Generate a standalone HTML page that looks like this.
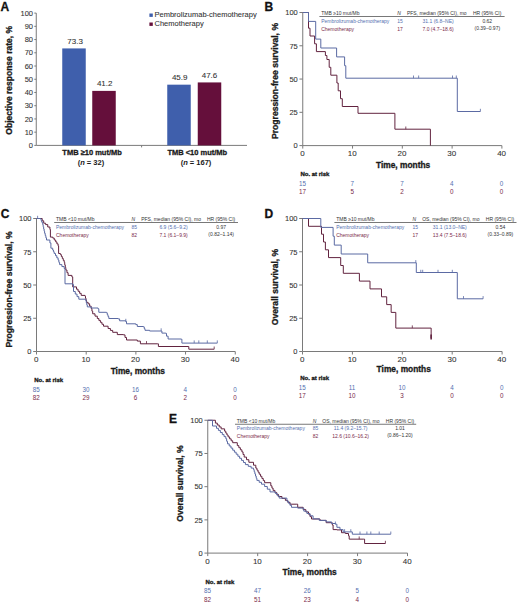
<!DOCTYPE html>
<html><head><meta charset="utf-8"><style>
html,body{margin:0;padding:0;background:#fff;width:520px;height:604px;overflow:hidden}
svg{display:block}
text{font-family:"Liberation Sans", sans-serif}
</style></head><body>
<svg width="520" height="604" viewBox="0 0 520 604" shape-rendering="auto">
<rect x="0" y="0" width="520" height="604" fill="#fff"/>
<text x="0.40" y="11.00" font-size="12.0" text-anchor="start" font-weight="bold" fill="#111" stroke="#111" stroke-width="0.3" >A</text>
<line x1="36.25" y1="13.10" x2="36.25" y2="145.40" stroke="#7a7a7a" stroke-width="1"/>
<line x1="36.25" y1="145.40" x2="247.00" y2="145.40" stroke="#7a7a7a" stroke-width="1"/>
<line x1="34.30" y1="145.40" x2="36.25" y2="145.40" stroke="#7a7a7a" stroke-width="1"/>
<text x="33.00" y="148.10" font-size="7.5" text-anchor="end" font-weight="normal" fill="#333" stroke="#333" stroke-width="0.08" >0</text>
<line x1="34.30" y1="132.17" x2="36.25" y2="132.17" stroke="#7a7a7a" stroke-width="1"/>
<text x="33.00" y="134.87" font-size="7.5" text-anchor="end" font-weight="normal" fill="#333" stroke="#333" stroke-width="0.08" >10</text>
<line x1="34.30" y1="118.94" x2="36.25" y2="118.94" stroke="#7a7a7a" stroke-width="1"/>
<text x="33.00" y="121.64" font-size="7.5" text-anchor="end" font-weight="normal" fill="#333" stroke="#333" stroke-width="0.08" >20</text>
<line x1="34.30" y1="105.71" x2="36.25" y2="105.71" stroke="#7a7a7a" stroke-width="1"/>
<text x="33.00" y="108.41" font-size="7.5" text-anchor="end" font-weight="normal" fill="#333" stroke="#333" stroke-width="0.08" >30</text>
<line x1="34.30" y1="92.48" x2="36.25" y2="92.48" stroke="#7a7a7a" stroke-width="1"/>
<text x="33.00" y="95.18" font-size="7.5" text-anchor="end" font-weight="normal" fill="#333" stroke="#333" stroke-width="0.08" >40</text>
<line x1="34.30" y1="79.25" x2="36.25" y2="79.25" stroke="#7a7a7a" stroke-width="1"/>
<text x="33.00" y="81.95" font-size="7.5" text-anchor="end" font-weight="normal" fill="#333" stroke="#333" stroke-width="0.08" >50</text>
<line x1="34.30" y1="66.02" x2="36.25" y2="66.02" stroke="#7a7a7a" stroke-width="1"/>
<text x="33.00" y="68.72" font-size="7.5" text-anchor="end" font-weight="normal" fill="#333" stroke="#333" stroke-width="0.08" >60</text>
<line x1="34.30" y1="52.79" x2="36.25" y2="52.79" stroke="#7a7a7a" stroke-width="1"/>
<text x="33.00" y="55.49" font-size="7.5" text-anchor="end" font-weight="normal" fill="#333" stroke="#333" stroke-width="0.08" >70</text>
<line x1="34.30" y1="39.56" x2="36.25" y2="39.56" stroke="#7a7a7a" stroke-width="1"/>
<text x="33.00" y="42.26" font-size="7.5" text-anchor="end" font-weight="normal" fill="#333" stroke="#333" stroke-width="0.08" >80</text>
<line x1="34.30" y1="26.33" x2="36.25" y2="26.33" stroke="#7a7a7a" stroke-width="1"/>
<text x="33.00" y="29.03" font-size="7.5" text-anchor="end" font-weight="normal" fill="#333" stroke="#333" stroke-width="0.08" >90</text>
<line x1="34.30" y1="13.10" x2="36.25" y2="13.10" stroke="#7a7a7a" stroke-width="1"/>
<text x="33.00" y="15.80" font-size="7.5" text-anchor="end" font-weight="normal" fill="#333" stroke="#333" stroke-width="0.08" >100</text>
<line x1="141.60" y1="145.40" x2="141.60" y2="147.40" stroke="#7a7a7a" stroke-width="1"/>
<text x="12.30" y="80.30" font-size="8.5" text-anchor="middle" font-weight="bold" fill="#1a1a1a" stroke="#1a1a1a" stroke-width="0.3" transform="rotate(-90 12.3 80.3)">Objective response rate, %</text>
<rect x="62.25" y="48.42" width="23.50" height="96.98" fill="#3f5fac"/>
<rect x="92.25" y="90.89" width="23.50" height="54.51" fill="#650f3b"/>
<rect x="167.25" y="84.67" width="23.50" height="60.73" fill="#3f5fac"/>
<rect x="197.75" y="82.43" width="23.50" height="62.97" fill="#650f3b"/>
<text x="75.10" y="44.00" font-size="8.0" text-anchor="middle" font-weight="normal" fill="#333" stroke="#333" stroke-width="0.08" >73.3</text>
<text x="104.70" y="86.30" font-size="8.0" text-anchor="middle" font-weight="normal" fill="#333" stroke="#333" stroke-width="0.08" >41.2</text>
<text x="179.70" y="80.00" font-size="8.0" text-anchor="middle" font-weight="normal" fill="#333" stroke="#333" stroke-width="0.08" >45.9</text>
<text x="209.50" y="78.15" font-size="8.0" text-anchor="middle" font-weight="normal" fill="#333" stroke="#333" stroke-width="0.08" >47.6</text>
<text x="92.10" y="155.10" font-size="7.5" text-anchor="middle" font-weight="bold" fill="#1a1a1a" stroke="#1a1a1a" stroke-width="0.3" >TMB ≥10 mut/Mb</text>
<text x="90.9" y="165.2" font-size="7.5" text-anchor="middle" font-weight="bold" fill="#1a1a1a">(<tspan font-style="italic">n</tspan> = 32)</text>
<text x="197.30" y="155.30" font-size="7.5" text-anchor="middle" font-weight="bold" fill="#1a1a1a" stroke="#1a1a1a" stroke-width="0.3" >TMB &lt;10 mut/Mb</text>
<text x="196.0" y="165.2" font-size="7.5" text-anchor="middle" font-weight="bold" fill="#1a1a1a">(<tspan font-style="italic">n</tspan> = 167)</text>
<rect x="149.40" y="13.50" width="3.40" height="3.40" fill="#3f5fac"/>
<rect x="149.40" y="22.50" width="3.40" height="3.40" fill="#650f3b"/>
<text x="154.50" y="17.10" font-size="7.5" text-anchor="start" font-weight="normal" fill="#333" stroke="#333" stroke-width="0.08" >Pembrolizumab-chemotherapy</text>
<text x="154.50" y="26.10" font-size="7.5" text-anchor="start" font-weight="normal" fill="#333" stroke="#333" stroke-width="0.08" >Chemotherapy</text>
<text x="264.60" y="10.60" font-size="12.0" text-anchor="start" font-weight="bold" fill="#111" stroke="#111" stroke-width="0.3" >B</text>
<line x1="302.75" y1="12.50" x2="302.75" y2="145.60" stroke="#7a7a7a" stroke-width="1"/>
<line x1="302.75" y1="145.60" x2="501.90" y2="145.60" stroke="#7a7a7a" stroke-width="1"/>
<line x1="299.45" y1="145.60" x2="302.75" y2="145.60" stroke="#7a7a7a" stroke-width="1"/>
<text x="297.75" y="148.35" font-size="7.5" text-anchor="end" font-weight="normal" fill="#333" stroke="#333" stroke-width="0.08" >0</text>
<line x1="299.45" y1="112.32" x2="302.75" y2="112.32" stroke="#7a7a7a" stroke-width="1"/>
<text x="297.75" y="115.07" font-size="7.5" text-anchor="end" font-weight="normal" fill="#333" stroke="#333" stroke-width="0.08" >25</text>
<line x1="299.45" y1="79.05" x2="302.75" y2="79.05" stroke="#7a7a7a" stroke-width="1"/>
<text x="297.75" y="81.80" font-size="7.5" text-anchor="end" font-weight="normal" fill="#333" stroke="#333" stroke-width="0.08" >50</text>
<line x1="299.45" y1="45.77" x2="302.75" y2="45.77" stroke="#7a7a7a" stroke-width="1"/>
<text x="297.75" y="48.52" font-size="7.5" text-anchor="end" font-weight="normal" fill="#333" stroke="#333" stroke-width="0.08" >75</text>
<line x1="299.45" y1="12.50" x2="302.75" y2="12.50" stroke="#7a7a7a" stroke-width="1"/>
<text x="297.75" y="15.25" font-size="7.5" text-anchor="end" font-weight="normal" fill="#333" stroke="#333" stroke-width="0.08" >100</text>
<line x1="302.75" y1="145.60" x2="302.75" y2="148.60" stroke="#7a7a7a" stroke-width="1"/>
<text x="302.45" y="156.10" font-size="8.0" text-anchor="middle" font-weight="normal" fill="#333" stroke="#333" stroke-width="0.08" >0</text>
<line x1="352.54" y1="145.60" x2="352.54" y2="148.60" stroke="#7a7a7a" stroke-width="1"/>
<text x="352.24" y="156.10" font-size="8.0" text-anchor="middle" font-weight="normal" fill="#333" stroke="#333" stroke-width="0.08" >10</text>
<line x1="402.32" y1="145.60" x2="402.32" y2="148.60" stroke="#7a7a7a" stroke-width="1"/>
<text x="402.02" y="156.10" font-size="8.0" text-anchor="middle" font-weight="normal" fill="#333" stroke="#333" stroke-width="0.08" >20</text>
<line x1="452.11" y1="145.60" x2="452.11" y2="148.60" stroke="#7a7a7a" stroke-width="1"/>
<text x="451.81" y="156.10" font-size="8.0" text-anchor="middle" font-weight="normal" fill="#333" stroke="#333" stroke-width="0.08" >30</text>
<line x1="501.90" y1="145.60" x2="501.90" y2="148.60" stroke="#7a7a7a" stroke-width="1"/>
<text x="501.60" y="156.10" font-size="8.0" text-anchor="middle" font-weight="normal" fill="#333" stroke="#333" stroke-width="0.08" >40</text>
<text x="278.25" y="81.00" font-size="8.6" text-anchor="middle" font-weight="bold" fill="#1a1a1a" stroke="#1a1a1a" stroke-width="0.3" transform="rotate(-90 278.25 81.00)">Progression-free survival, %</text>
<text x="403.12" y="168.15" font-size="8.4" text-anchor="middle" font-weight="bold" fill="#1a1a1a" stroke="#1a1a1a" stroke-width="0.3" >Time, months</text>
<text x="300.45" y="176.20" font-size="6.0" text-anchor="start" font-weight="bold" fill="#1a1a1a" stroke="#1a1a1a" stroke-width="0.3" >No. at risk</text>
<text x="302.45" y="185.80" font-size="6.3" text-anchor="middle" font-weight="normal" fill="#5470b0" >15</text>
<text x="302.45" y="194.00" font-size="6.3" text-anchor="middle" font-weight="normal" fill="#7a2a4a" >17</text>
<text x="352.24" y="185.80" font-size="6.3" text-anchor="middle" font-weight="normal" fill="#5470b0" >7</text>
<text x="352.24" y="194.00" font-size="6.3" text-anchor="middle" font-weight="normal" fill="#7a2a4a" >5</text>
<text x="402.02" y="185.80" font-size="6.3" text-anchor="middle" font-weight="normal" fill="#5470b0" >7</text>
<text x="402.02" y="194.00" font-size="6.3" text-anchor="middle" font-weight="normal" fill="#7a2a4a" >2</text>
<text x="451.81" y="185.80" font-size="6.3" text-anchor="middle" font-weight="normal" fill="#5470b0" >4</text>
<text x="451.81" y="194.00" font-size="6.3" text-anchor="middle" font-weight="normal" fill="#7a2a4a" >0</text>
<text x="501.60" y="185.80" font-size="6.3" text-anchor="middle" font-weight="normal" fill="#5470b0" >0</text>
<text x="501.60" y="194.00" font-size="6.3" text-anchor="middle" font-weight="normal" fill="#7a2a4a" >0</text>
<text x="321.20" y="14.80" font-size="5.0" text-anchor="start" font-weight="normal" fill="#333" >TMB ≥10 mut/Mb</text>
<text x="397.30" y="14.80" font-size="5" font-style="italic" fill="#333">N</text>
<text x="406.90" y="14.80" font-size="5.0" text-anchor="start" font-weight="normal" fill="#333" >PFS, median (95% CI), mo</text>
<text x="473.00" y="14.80" font-size="5.0" text-anchor="start" font-weight="normal" fill="#333" >HR (95% CI)</text>
<line x1="319.40" y1="16.50" x2="504.60" y2="16.50" stroke="#555" stroke-width="0.8"/>
<text x="321.20" y="22.70" font-size="5.0" text-anchor="start" font-weight="normal" fill="#5470b0" >Pembrolizumab-chemotherapy</text>
<text x="321.20" y="30.60" font-size="5.0" text-anchor="start" font-weight="normal" fill="#7a2a4a" >Chemotherapy</text>
<text x="397.30" y="22.70" font-size="5.0" text-anchor="start" font-weight="normal" fill="#5470b0" >15</text>
<text x="397.30" y="30.60" font-size="5.0" text-anchor="start" font-weight="normal" fill="#7a2a4a" >17</text>
<text x="438.10" y="22.70" font-size="5.0" text-anchor="middle" font-weight="normal" fill="#5470b0" >31.1 (6.8–NE)</text>
<text x="438.10" y="30.60" font-size="5.0" text-anchor="middle" font-weight="normal" fill="#7a2a4a" >7.0 (4.7–18.6)</text>
<text x="487.30" y="22.70" font-size="5.0" text-anchor="middle" font-weight="normal" fill="#333" >0.62</text>
<text x="487.30" y="29.50" font-size="5.0" text-anchor="middle" font-weight="normal" fill="#333" >(0.39–0.97)</text>
<path d="M302.75,12.5 H308.5 V28.2 H310 V36 H314.6 V43.8 H316.4 V51.6 H325.4 V55.5 H326.9 V59.5 H329.2 V67.3 H330.8 V75.2 H336.9 V83 H338.2 V90.8 H340.5 V98.7 H342.3 V106.5 H358 V113.3 H394.9 V129.2 H430.4 V145.6" fill="none" stroke="#62233f" stroke-width="1" stroke-linejoin="miter" stroke-linecap="butt"/>
<line x1="405.80" y1="126.50" x2="405.80" y2="129.20" stroke="#62233f" stroke-width="0.8"/>
<path d="M302.75,12.5 H308.5 V21.4 H315.7 V39.1 H320.8 V48 H336.6 V56.9 H344.6 V65.7 H345.8 V78.2 H457.3 V111.5 H480.4" fill="none" stroke="#5b6aa3" stroke-width="1" stroke-linejoin="miter" stroke-linecap="butt"/>
<line x1="413.50" y1="75.50" x2="413.50" y2="78.20" stroke="#5b6aa3" stroke-width="0.8"/>
<line x1="418.65" y1="75.50" x2="418.65" y2="78.20" stroke="#5b6aa3" stroke-width="0.8"/>
<line x1="452.50" y1="75.50" x2="452.50" y2="78.20" stroke="#5b6aa3" stroke-width="0.8"/>
<line x1="456.30" y1="75.50" x2="456.30" y2="78.20" stroke="#5b6aa3" stroke-width="0.8"/>
<line x1="480.40" y1="108.80" x2="480.40" y2="111.50" stroke="#5b6aa3" stroke-width="0.8"/>
<text x="0.80" y="217.50" font-size="12.0" text-anchor="start" font-weight="bold" fill="#111" stroke="#111" stroke-width="0.3" >C</text>
<line x1="36.50" y1="218.50" x2="36.50" y2="351.50" stroke="#7a7a7a" stroke-width="1"/>
<line x1="36.50" y1="351.50" x2="235.25" y2="351.50" stroke="#7a7a7a" stroke-width="1"/>
<line x1="33.20" y1="351.50" x2="36.50" y2="351.50" stroke="#7a7a7a" stroke-width="1"/>
<text x="31.50" y="354.25" font-size="7.5" text-anchor="end" font-weight="normal" fill="#333" stroke="#333" stroke-width="0.08" >0</text>
<line x1="33.20" y1="318.25" x2="36.50" y2="318.25" stroke="#7a7a7a" stroke-width="1"/>
<text x="31.50" y="321.00" font-size="7.5" text-anchor="end" font-weight="normal" fill="#333" stroke="#333" stroke-width="0.08" >25</text>
<line x1="33.20" y1="285.00" x2="36.50" y2="285.00" stroke="#7a7a7a" stroke-width="1"/>
<text x="31.50" y="287.75" font-size="7.5" text-anchor="end" font-weight="normal" fill="#333" stroke="#333" stroke-width="0.08" >50</text>
<line x1="33.20" y1="251.75" x2="36.50" y2="251.75" stroke="#7a7a7a" stroke-width="1"/>
<text x="31.50" y="254.50" font-size="7.5" text-anchor="end" font-weight="normal" fill="#333" stroke="#333" stroke-width="0.08" >75</text>
<line x1="33.20" y1="218.50" x2="36.50" y2="218.50" stroke="#7a7a7a" stroke-width="1"/>
<text x="31.50" y="221.25" font-size="7.5" text-anchor="end" font-weight="normal" fill="#333" stroke="#333" stroke-width="0.08" >100</text>
<line x1="36.50" y1="351.50" x2="36.50" y2="354.50" stroke="#7a7a7a" stroke-width="1"/>
<text x="36.20" y="362.00" font-size="8.0" text-anchor="middle" font-weight="normal" fill="#333" stroke="#333" stroke-width="0.08" >0</text>
<line x1="86.19" y1="351.50" x2="86.19" y2="354.50" stroke="#7a7a7a" stroke-width="1"/>
<text x="85.89" y="362.00" font-size="8.0" text-anchor="middle" font-weight="normal" fill="#333" stroke="#333" stroke-width="0.08" >10</text>
<line x1="135.88" y1="351.50" x2="135.88" y2="354.50" stroke="#7a7a7a" stroke-width="1"/>
<text x="135.57" y="362.00" font-size="8.0" text-anchor="middle" font-weight="normal" fill="#333" stroke="#333" stroke-width="0.08" >20</text>
<line x1="185.56" y1="351.50" x2="185.56" y2="354.50" stroke="#7a7a7a" stroke-width="1"/>
<text x="185.26" y="362.00" font-size="8.0" text-anchor="middle" font-weight="normal" fill="#333" stroke="#333" stroke-width="0.08" >30</text>
<line x1="235.25" y1="351.50" x2="235.25" y2="354.50" stroke="#7a7a7a" stroke-width="1"/>
<text x="234.95" y="362.00" font-size="8.0" text-anchor="middle" font-weight="normal" fill="#333" stroke="#333" stroke-width="0.08" >40</text>
<text x="12.30" y="289.50" font-size="8.6" text-anchor="middle" font-weight="bold" fill="#1a1a1a" stroke="#1a1a1a" stroke-width="0.3" transform="rotate(-90 12.30 289.50)">Progression-free survival, %</text>
<text x="137.78" y="373.85" font-size="8.4" text-anchor="middle" font-weight="bold" fill="#1a1a1a" stroke="#1a1a1a" stroke-width="0.3" >Time, months</text>
<text x="34.20" y="382.10" font-size="6.0" text-anchor="start" font-weight="bold" fill="#1a1a1a" stroke="#1a1a1a" stroke-width="0.3" >No. at risk</text>
<text x="36.20" y="391.70" font-size="6.3" text-anchor="middle" font-weight="normal" fill="#5470b0" >85</text>
<text x="36.20" y="399.90" font-size="6.3" text-anchor="middle" font-weight="normal" fill="#7a2a4a" >82</text>
<text x="85.89" y="391.70" font-size="6.3" text-anchor="middle" font-weight="normal" fill="#5470b0" >30</text>
<text x="85.89" y="399.90" font-size="6.3" text-anchor="middle" font-weight="normal" fill="#7a2a4a" >29</text>
<text x="135.57" y="391.70" font-size="6.3" text-anchor="middle" font-weight="normal" fill="#5470b0" >16</text>
<text x="135.57" y="399.90" font-size="6.3" text-anchor="middle" font-weight="normal" fill="#7a2a4a" >6</text>
<text x="185.26" y="391.70" font-size="6.3" text-anchor="middle" font-weight="normal" fill="#5470b0" >4</text>
<text x="185.26" y="399.90" font-size="6.3" text-anchor="middle" font-weight="normal" fill="#7a2a4a" >2</text>
<text x="234.95" y="391.70" font-size="6.3" text-anchor="middle" font-weight="normal" fill="#5470b0" >0</text>
<text x="234.95" y="399.90" font-size="6.3" text-anchor="middle" font-weight="normal" fill="#7a2a4a" >0</text>
<text x="56.00" y="220.80" font-size="5.0" text-anchor="start" font-weight="normal" fill="#333" >TMB &lt;10 mut/Mb</text>
<text x="131.60" y="220.80" font-size="5" font-style="italic" fill="#333">N</text>
<text x="141.20" y="220.80" font-size="5.0" text-anchor="start" font-weight="normal" fill="#333" >PFS, median (95% CI), mo</text>
<text x="206.90" y="220.80" font-size="5.0" text-anchor="start" font-weight="normal" fill="#333" >HR (95% CI)</text>
<line x1="54.20" y1="222.50" x2="238.00" y2="222.50" stroke="#555" stroke-width="0.8"/>
<text x="56.00" y="228.70" font-size="5.0" text-anchor="start" font-weight="normal" fill="#5470b0" >Pembrolizumab-chemotherapy</text>
<text x="56.00" y="236.60" font-size="5.0" text-anchor="start" font-weight="normal" fill="#7a2a4a" >Chemotherapy</text>
<text x="131.60" y="228.70" font-size="5.0" text-anchor="start" font-weight="normal" fill="#5470b0" >85</text>
<text x="131.60" y="236.60" font-size="5.0" text-anchor="start" font-weight="normal" fill="#7a2a4a" >82</text>
<text x="173.60" y="228.70" font-size="5.0" text-anchor="middle" font-weight="normal" fill="#5470b0" >6.9 (5.6–9.2)</text>
<text x="173.60" y="236.60" font-size="5.0" text-anchor="middle" font-weight="normal" fill="#7a2a4a" >7.1 (6.1–9.9)</text>
<text x="221.10" y="228.70" font-size="5.0" text-anchor="middle" font-weight="normal" fill="#333" >0.97</text>
<text x="221.10" y="235.50" font-size="5.0" text-anchor="middle" font-weight="normal" fill="#333" >(0.82–1.14)</text>
<path d="M36.50,218.50 H38.80 V218.50 H42.20 V220.80 H43.70 V223.20 H45.60 V224.60 H47.75 V227.00 H49.90 V229.40 H50.40 V237.10 H52.80 V238.10 H54.25 V240.00 H55.70 V241.90 H56.90 V243.85 H58.10 V245.80 H58.60 V253.50 H60.40 V254.60 H61.35 V256.52 H62.30 V258.45 H63.25 V260.38 H64.20 V262.30 H64.73 V264.87 H65.27 V267.43 H65.80 V270.00 H66.95 V272.70 H68.10 V275.40 H71.90 V276.90 H72.70 V286.90 H76.50 V289.20 H78.07 V291.27 H79.63 V293.33 H81.20 V295.40 H85.00 V296.20 H85.50 V298.23 H86.00 V300.27 H86.50 V302.30 H88.10 V303.80 H89.62 V306.15 H91.15 V308.50 H91.93 V311.15 H92.70 V313.80 H95.00 V316.15 H97.30 V318.50 H98.85 V320.40 H100.40 V322.30 H101.95 V324.25 H103.50 V326.20 H108.10 V328.50 H110.40 V330.40 H112.70 V332.30 H117.30 V334.60 H123.50 V334.90 H125.00 V337.45 H126.50 V340.00 H137.30 V341.10 H140.40 V343.80 H157.30 V343.80 H158.40 V346.50 H188.10 V346.50 H188.80 V349.20 H214.20 V349.20" fill="none" stroke="#62233f" stroke-width="1" stroke-linejoin="miter" stroke-linecap="butt"/>
<path d="M36.50,218.50 H40.30 V218.50 H41.00 V220.35 H41.70 V222.20 H42.70 V224.60 H43.18 V226.78 H43.65 V228.95 H44.12 V231.12 H44.60 V233.30 H45.23 V235.53 H45.87 V237.77 H46.50 V240.00 H49.90 V242.90 H50.90 V248.20 H52.70 V250.00 H53.45 V251.75 H54.20 V253.50 H55.50 V255.67 H56.80 V257.83 H58.10 V260.00 H58.85 V262.30 H59.60 V264.60 H61.90 V266.55 H64.20 V268.50 H65.00 V283.80 H72.70 V284.60 H73.50 V291.50 H75.27 V294.07 H77.03 V296.63 H78.80 V299.20 H85.80 V300.80 H86.30 V302.83 H86.80 V304.87 H87.30 V306.90 H91.20 V308.00 H98.10 V308.80 H98.80 V312.30 H106.50 V312.80 H107.27 V314.70 H108.03 V316.60 H108.80 V318.50 H118.10 V318.90 H119.60 V320.80 H125.80 V321.50 H126.50 V323.80 H135.80 V324.60 H137.30 V326.50 H143.50 V326.90 H144.25 V328.60 H145.00 V330.30 H149.60 V331.00 H161.15 V331.00 H161.90 V333.10 H165.80 V333.40 H166.50 V336.15 H168.10 V339.00 H181.15 V339.20 H181.90 V343.10 H217.30 V343.10" fill="none" stroke="#5b6aa3" stroke-width="1" stroke-linejoin="miter" stroke-linecap="butt"/>
<line x1="161.15" y1="328.30" x2="161.15" y2="331.00" stroke="#5b6aa3" stroke-width="0.8"/>
<line x1="194.20" y1="340.40" x2="194.20" y2="343.10" stroke="#5b6aa3" stroke-width="0.8"/>
<line x1="198.80" y1="340.40" x2="198.80" y2="343.10" stroke="#5b6aa3" stroke-width="0.8"/>
<line x1="207.30" y1="340.40" x2="207.30" y2="343.10" stroke="#5b6aa3" stroke-width="0.8"/>
<line x1="217.30" y1="340.40" x2="217.30" y2="343.10" stroke="#5b6aa3" stroke-width="0.8"/>
<line x1="125.80" y1="318.80" x2="125.80" y2="321.50" stroke="#5b6aa3" stroke-width="0.8"/>
<line x1="146.50" y1="341.10" x2="146.50" y2="343.80" stroke="#62233f" stroke-width="0.8"/>
<line x1="214.20" y1="346.50" x2="214.20" y2="349.20" stroke="#62233f" stroke-width="0.8"/>
<line x1="37.60" y1="215.80" x2="37.60" y2="218.50" stroke="#5b6aa3" stroke-width="0.8"/>
<text x="264.40" y="217.70" font-size="12.0" text-anchor="start" font-weight="bold" fill="#111" stroke="#111" stroke-width="0.3" >D</text>
<line x1="302.50" y1="218.50" x2="302.50" y2="351.50" stroke="#7a7a7a" stroke-width="1"/>
<line x1="302.50" y1="351.50" x2="502.10" y2="351.50" stroke="#7a7a7a" stroke-width="1"/>
<line x1="299.20" y1="351.50" x2="302.50" y2="351.50" stroke="#7a7a7a" stroke-width="1"/>
<text x="297.50" y="354.25" font-size="7.5" text-anchor="end" font-weight="normal" fill="#333" stroke="#333" stroke-width="0.08" >0</text>
<line x1="299.20" y1="318.25" x2="302.50" y2="318.25" stroke="#7a7a7a" stroke-width="1"/>
<text x="297.50" y="321.00" font-size="7.5" text-anchor="end" font-weight="normal" fill="#333" stroke="#333" stroke-width="0.08" >25</text>
<line x1="299.20" y1="285.00" x2="302.50" y2="285.00" stroke="#7a7a7a" stroke-width="1"/>
<text x="297.50" y="287.75" font-size="7.5" text-anchor="end" font-weight="normal" fill="#333" stroke="#333" stroke-width="0.08" >50</text>
<line x1="299.20" y1="251.75" x2="302.50" y2="251.75" stroke="#7a7a7a" stroke-width="1"/>
<text x="297.50" y="254.50" font-size="7.5" text-anchor="end" font-weight="normal" fill="#333" stroke="#333" stroke-width="0.08" >75</text>
<line x1="299.20" y1="218.50" x2="302.50" y2="218.50" stroke="#7a7a7a" stroke-width="1"/>
<text x="297.50" y="221.25" font-size="7.5" text-anchor="end" font-weight="normal" fill="#333" stroke="#333" stroke-width="0.08" >100</text>
<line x1="302.50" y1="351.50" x2="302.50" y2="354.50" stroke="#7a7a7a" stroke-width="1"/>
<text x="302.20" y="362.00" font-size="8.0" text-anchor="middle" font-weight="normal" fill="#333" stroke="#333" stroke-width="0.08" >0</text>
<line x1="352.40" y1="351.50" x2="352.40" y2="354.50" stroke="#7a7a7a" stroke-width="1"/>
<text x="352.10" y="362.00" font-size="8.0" text-anchor="middle" font-weight="normal" fill="#333" stroke="#333" stroke-width="0.08" >10</text>
<line x1="402.30" y1="351.50" x2="402.30" y2="354.50" stroke="#7a7a7a" stroke-width="1"/>
<text x="402.00" y="362.00" font-size="8.0" text-anchor="middle" font-weight="normal" fill="#333" stroke="#333" stroke-width="0.08" >20</text>
<line x1="452.20" y1="351.50" x2="452.20" y2="354.50" stroke="#7a7a7a" stroke-width="1"/>
<text x="451.90" y="362.00" font-size="8.0" text-anchor="middle" font-weight="normal" fill="#333" stroke="#333" stroke-width="0.08" >30</text>
<line x1="502.10" y1="351.50" x2="502.10" y2="354.50" stroke="#7a7a7a" stroke-width="1"/>
<text x="501.80" y="362.00" font-size="8.0" text-anchor="middle" font-weight="normal" fill="#333" stroke="#333" stroke-width="0.08" >40</text>
<text x="278.25" y="287.00" font-size="8.6" text-anchor="middle" font-weight="bold" fill="#1a1a1a" stroke="#1a1a1a" stroke-width="0.3" transform="rotate(-90 278.25 287.00)">Overall survival, %</text>
<text x="403.75" y="372.00" font-size="8.4" text-anchor="middle" font-weight="bold" fill="#1a1a1a" stroke="#1a1a1a" stroke-width="0.3" >Time, months</text>
<text x="300.20" y="379.90" font-size="6.0" text-anchor="start" font-weight="bold" fill="#1a1a1a" stroke="#1a1a1a" stroke-width="0.3" >No. at risk</text>
<text x="302.20" y="389.50" font-size="6.3" text-anchor="middle" font-weight="normal" fill="#5470b0" >15</text>
<text x="302.20" y="397.70" font-size="6.3" text-anchor="middle" font-weight="normal" fill="#7a2a4a" >17</text>
<text x="352.10" y="389.50" font-size="6.3" text-anchor="middle" font-weight="normal" fill="#5470b0" >11</text>
<text x="352.10" y="397.70" font-size="6.3" text-anchor="middle" font-weight="normal" fill="#7a2a4a" >10</text>
<text x="402.00" y="389.50" font-size="6.3" text-anchor="middle" font-weight="normal" fill="#5470b0" >10</text>
<text x="402.00" y="397.70" font-size="6.3" text-anchor="middle" font-weight="normal" fill="#7a2a4a" >3</text>
<text x="451.90" y="389.50" font-size="6.3" text-anchor="middle" font-weight="normal" fill="#5470b0" >4</text>
<text x="451.90" y="397.70" font-size="6.3" text-anchor="middle" font-weight="normal" fill="#7a2a4a" >0</text>
<text x="501.80" y="389.50" font-size="6.3" text-anchor="middle" font-weight="normal" fill="#5470b0" >0</text>
<text x="501.80" y="397.70" font-size="6.3" text-anchor="middle" font-weight="normal" fill="#7a2a4a" >0</text>
<text x="336.20" y="220.80" font-size="5.0" text-anchor="start" font-weight="normal" fill="#333" >TMB ≥10 mut/Mb</text>
<text x="412.60" y="220.80" font-size="5" font-style="italic" fill="#333">N</text>
<text x="422.20" y="220.80" font-size="5.0" text-anchor="start" font-weight="normal" fill="#333" >OS, median (95% CI), mo</text>
<text x="485.85" y="220.80" font-size="5.0" text-anchor="start" font-weight="normal" fill="#333" >HR (95% CI)</text>
<line x1="334.40" y1="222.50" x2="516.50" y2="222.50" stroke="#555" stroke-width="0.8"/>
<text x="336.20" y="228.70" font-size="5.0" text-anchor="start" font-weight="normal" fill="#5470b0" >Pembrolizumab-chemotherapy</text>
<text x="336.20" y="236.60" font-size="5.0" text-anchor="start" font-weight="normal" fill="#7a2a4a" >Chemotherapy</text>
<text x="412.60" y="228.70" font-size="5.0" text-anchor="start" font-weight="normal" fill="#5470b0" >15</text>
<text x="412.60" y="236.60" font-size="5.0" text-anchor="start" font-weight="normal" fill="#7a2a4a" >17</text>
<text x="449.80" y="228.70" font-size="5.0" text-anchor="middle" font-weight="normal" fill="#5470b0" >31.1 (13.0–NE)</text>
<text x="449.80" y="236.60" font-size="5.0" text-anchor="middle" font-weight="normal" fill="#7a2a4a" >13.4 (7.5–18.6)</text>
<text x="500.40" y="228.70" font-size="5.0" text-anchor="middle" font-weight="normal" fill="#333" >0.54</text>
<text x="500.40" y="235.50" font-size="5.0" text-anchor="middle" font-weight="normal" fill="#333" >(0.33–0.89)</text>
<path d="M302.5,218.5 H308.5 V226.3 H321.5 V234.2 H323.5 V242 H325.4 V249.8 H328.5 V257.6 H340.7 V265.5 H343.3 V273.3 H359.4 V281.1 H370 V288.9 H381.5 V296.8 H386.7 V304.6 H391.15 V312.4 H395.8 V328.1 H431.15 V338" fill="none" stroke="#62233f" stroke-width="1" stroke-linejoin="miter" stroke-linecap="butt"/>
<line x1="412.30" y1="325.40" x2="412.30" y2="328.10" stroke="#62233f" stroke-width="0.8"/>
<line x1="431.15" y1="334.50" x2="431.15" y2="339.50" stroke="#62233f" stroke-width="1.6"/>
<path d="M302.5,218.5 H320.8 V227.4 H333.1 V236.2 H334.3 V245.1 H341.2 V254 H367.7 V262.8 H416.3 V272.5 H457.3 V298.8 H483.1" fill="none" stroke="#5b6aa3" stroke-width="1" stroke-linejoin="miter" stroke-linecap="butt"/>
<line x1="415.80" y1="260.10" x2="415.80" y2="262.80" stroke="#5b6aa3" stroke-width="0.8"/>
<line x1="420.80" y1="269.80" x2="420.80" y2="272.50" stroke="#5b6aa3" stroke-width="0.8"/>
<line x1="422.70" y1="269.80" x2="422.70" y2="272.50" stroke="#5b6aa3" stroke-width="0.8"/>
<line x1="438.00" y1="269.80" x2="438.00" y2="272.50" stroke="#5b6aa3" stroke-width="0.8"/>
<line x1="452.30" y1="269.80" x2="452.30" y2="272.50" stroke="#5b6aa3" stroke-width="0.8"/>
<line x1="463.50" y1="296.10" x2="463.50" y2="298.80" stroke="#5b6aa3" stroke-width="0.8"/>
<line x1="483.10" y1="296.10" x2="483.10" y2="298.80" stroke="#5b6aa3" stroke-width="0.8"/>
<text x="169.00" y="422.50" font-size="12.0" text-anchor="start" font-weight="bold" fill="#111" stroke="#111" stroke-width="0.3" >E</text>
<line x1="207.75" y1="420.25" x2="207.75" y2="553.10" stroke="#7a7a7a" stroke-width="1"/>
<line x1="207.75" y1="553.10" x2="407.50" y2="553.10" stroke="#7a7a7a" stroke-width="1"/>
<line x1="204.45" y1="553.10" x2="207.75" y2="553.10" stroke="#7a7a7a" stroke-width="1"/>
<text x="202.75" y="555.85" font-size="7.5" text-anchor="end" font-weight="normal" fill="#333" stroke="#333" stroke-width="0.08" >0</text>
<line x1="204.45" y1="519.89" x2="207.75" y2="519.89" stroke="#7a7a7a" stroke-width="1"/>
<text x="202.75" y="522.64" font-size="7.5" text-anchor="end" font-weight="normal" fill="#333" stroke="#333" stroke-width="0.08" >25</text>
<line x1="204.45" y1="486.68" x2="207.75" y2="486.68" stroke="#7a7a7a" stroke-width="1"/>
<text x="202.75" y="489.43" font-size="7.5" text-anchor="end" font-weight="normal" fill="#333" stroke="#333" stroke-width="0.08" >50</text>
<line x1="204.45" y1="453.46" x2="207.75" y2="453.46" stroke="#7a7a7a" stroke-width="1"/>
<text x="202.75" y="456.21" font-size="7.5" text-anchor="end" font-weight="normal" fill="#333" stroke="#333" stroke-width="0.08" >75</text>
<line x1="204.45" y1="420.25" x2="207.75" y2="420.25" stroke="#7a7a7a" stroke-width="1"/>
<text x="202.75" y="423.00" font-size="7.5" text-anchor="end" font-weight="normal" fill="#333" stroke="#333" stroke-width="0.08" >100</text>
<line x1="207.75" y1="553.10" x2="207.75" y2="556.10" stroke="#7a7a7a" stroke-width="1"/>
<text x="207.45" y="563.60" font-size="8.0" text-anchor="middle" font-weight="normal" fill="#333" stroke="#333" stroke-width="0.08" >0</text>
<line x1="257.69" y1="553.10" x2="257.69" y2="556.10" stroke="#7a7a7a" stroke-width="1"/>
<text x="257.39" y="563.60" font-size="8.0" text-anchor="middle" font-weight="normal" fill="#333" stroke="#333" stroke-width="0.08" >10</text>
<line x1="307.62" y1="553.10" x2="307.62" y2="556.10" stroke="#7a7a7a" stroke-width="1"/>
<text x="307.32" y="563.60" font-size="8.0" text-anchor="middle" font-weight="normal" fill="#333" stroke="#333" stroke-width="0.08" >20</text>
<line x1="357.56" y1="553.10" x2="357.56" y2="556.10" stroke="#7a7a7a" stroke-width="1"/>
<text x="357.26" y="563.60" font-size="8.0" text-anchor="middle" font-weight="normal" fill="#333" stroke="#333" stroke-width="0.08" >30</text>
<line x1="407.50" y1="553.10" x2="407.50" y2="556.10" stroke="#7a7a7a" stroke-width="1"/>
<text x="407.20" y="563.60" font-size="8.0" text-anchor="middle" font-weight="normal" fill="#333" stroke="#333" stroke-width="0.08" >40</text>
<text x="183.30" y="483.50" font-size="8.6" text-anchor="middle" font-weight="bold" fill="#1a1a1a" stroke="#1a1a1a" stroke-width="0.3" transform="rotate(-90 183.30 483.50)">Overall survival, %</text>
<text x="309.62" y="575.10" font-size="8.4" text-anchor="middle" font-weight="bold" fill="#1a1a1a" stroke="#1a1a1a" stroke-width="0.3" >Time, months</text>
<text x="205.45" y="583.70" font-size="6.0" text-anchor="start" font-weight="bold" fill="#1a1a1a" stroke="#1a1a1a" stroke-width="0.3" >No. at risk</text>
<text x="207.45" y="593.30" font-size="6.3" text-anchor="middle" font-weight="normal" fill="#5470b0" >85</text>
<text x="207.45" y="601.50" font-size="6.3" text-anchor="middle" font-weight="normal" fill="#7a2a4a" >82</text>
<text x="257.39" y="593.30" font-size="6.3" text-anchor="middle" font-weight="normal" fill="#5470b0" >47</text>
<text x="257.39" y="601.50" font-size="6.3" text-anchor="middle" font-weight="normal" fill="#7a2a4a" >51</text>
<text x="307.32" y="593.30" font-size="6.3" text-anchor="middle" font-weight="normal" fill="#5470b0" >26</text>
<text x="307.32" y="601.50" font-size="6.3" text-anchor="middle" font-weight="normal" fill="#7a2a4a" >23</text>
<text x="357.26" y="593.30" font-size="6.3" text-anchor="middle" font-weight="normal" fill="#5470b0" >5</text>
<text x="357.26" y="601.50" font-size="6.3" text-anchor="middle" font-weight="normal" fill="#7a2a4a" >4</text>
<text x="407.20" y="593.30" font-size="6.3" text-anchor="middle" font-weight="normal" fill="#5470b0" >0</text>
<text x="407.20" y="601.50" font-size="6.3" text-anchor="middle" font-weight="normal" fill="#7a2a4a" >0</text>
<text x="236.80" y="422.55" font-size="5.0" text-anchor="start" font-weight="normal" fill="#333" >TMB &lt;10 mut/Mb</text>
<text x="312.70" y="422.55" font-size="5" font-style="italic" fill="#333">N</text>
<text x="322.30" y="422.55" font-size="5.0" text-anchor="start" font-weight="normal" fill="#333" >OS, median (95% CI), mo</text>
<text x="385.85" y="422.55" font-size="5.0" text-anchor="start" font-weight="normal" fill="#333" >HR (95% CI)</text>
<line x1="235.00" y1="424.25" x2="416.20" y2="424.25" stroke="#555" stroke-width="0.8"/>
<text x="236.80" y="430.45" font-size="5.0" text-anchor="start" font-weight="normal" fill="#5470b0" >Pembrolizumab-chemotherapy</text>
<text x="236.80" y="438.35" font-size="5.0" text-anchor="start" font-weight="normal" fill="#7a2a4a" >Chemotherapy</text>
<text x="312.70" y="430.45" font-size="5.0" text-anchor="start" font-weight="normal" fill="#5470b0" >85</text>
<text x="312.70" y="438.35" font-size="5.0" text-anchor="start" font-weight="normal" fill="#7a2a4a" >82</text>
<text x="350.60" y="430.45" font-size="5.0" text-anchor="middle" font-weight="normal" fill="#5470b0" >11.4 (9.2–15.7)</text>
<text x="350.60" y="438.35" font-size="5.0" text-anchor="middle" font-weight="normal" fill="#7a2a4a" >12.6 (10.6–16.2)</text>
<text x="400.00" y="430.45" font-size="5.0" text-anchor="middle" font-weight="normal" fill="#333" >1.01</text>
<text x="400.00" y="437.25" font-size="5.0" text-anchor="middle" font-weight="normal" fill="#333" >(0.86–1.20)</text>
<path d="M207.75,420.25 H211.90 V420.25 H215.40 V423.10 H217.32 V425.02 H219.23 V426.93 H221.15 V428.85 H224.60 V431.15 H225.77 V433.07 H226.93 V434.98 H228.10 V436.90 H229.63 V438.83 H231.17 V440.77 H232.70 V442.70 H237.30 V445.60 H238.83 V447.70 H240.37 V449.80 H241.90 V451.90 H243.05 V454.50 H244.20 V457.10 H246.52 V459.70 H248.85 V462.30 H253.50 V465.20 H255.80 V468.10 H256.93 V470.13 H258.07 V472.17 H259.20 V474.20 H260.55 V476.32 H261.90 V478.45 H263.25 V480.57 H264.60 V482.70 H270.80 V485.80 H271.95 V488.10 H273.10 V490.40 H274.90 V492.43 H276.70 V494.47 H278.50 V496.50 H281.95 V498.45 H285.40 V500.40 H287.70 V502.30 H290.00 V504.20 H296.15 V504.20 H297.70 V507.30 H303.10 V509.60 H305.80 V511.90 H308.50 V514.20 H310.00 V516.60 H311.50 V519.00 H320.00 V520.40 H326.15 V522.70 H332.30 V525.00 H333.10 V529.60 H336.90 V529.90 H341.50 V532.70 H345.40 V533.50 H348.50 V535.80 H349.20 V539.15 H363.80 V539.15 H364.60 V543.50 H385.40 V543.50" fill="none" stroke="#62233f" stroke-width="1" stroke-linejoin="miter" stroke-linecap="butt"/>
<path d="M207.75,420.25 H211.30 V420.25 H212.50 V426.00 H216.50 V428.30 H218.43 V430.40 H220.37 V432.50 H222.30 V434.60 H224.05 V436.62 H225.80 V438.65 H226.65 V441.25 H227.50 V443.85 H229.23 V445.97 H230.97 V448.08 H232.70 V450.20 H234.43 V452.20 H236.15 V454.20 H237.88 V456.25 H239.60 V458.30 H241.53 V460.40 H243.47 V462.50 H245.40 V464.60 H248.28 V466.35 H251.15 V468.10 H253.50 V469.60 H254.18 V471.76 H254.86 V473.92 H255.54 V476.08 H256.22 V478.24 H256.90 V480.40 H259.20 V482.30 H261.50 V484.20 H264.60 V486.50 H267.30 V489.20 H270.00 V491.90 H275.40 V493.50 H277.30 V495.80 H279.20 V498.10 H286.90 V501.20 H288.43 V503.23 H289.97 V505.27 H291.50 V507.30 H297.70 V508.10 H303.80 V511.15 H306.90 V513.47 H310.00 V515.80 H313.10 V518.85 H319.20 V520.40 H326.15 V521.90 H331.50 V523.50 H335.40 V524.20 H336.90 V527.30 H340.00 V529.60 H343.10 V531.90 H350.80 V531.90 H352.30 V534.20 H390.80 V534.20" fill="none" stroke="#5b6aa3" stroke-width="1" stroke-linejoin="miter" stroke-linecap="butt"/>
<line x1="360.00" y1="531.50" x2="360.00" y2="534.20" stroke="#5b6aa3" stroke-width="0.8"/>
<line x1="366.90" y1="531.50" x2="366.90" y2="534.20" stroke="#5b6aa3" stroke-width="0.8"/>
<line x1="370.80" y1="531.50" x2="370.80" y2="534.20" stroke="#5b6aa3" stroke-width="0.8"/>
<line x1="379.20" y1="531.50" x2="379.20" y2="534.20" stroke="#5b6aa3" stroke-width="0.8"/>
<line x1="390.80" y1="531.50" x2="390.80" y2="534.20" stroke="#5b6aa3" stroke-width="0.8"/>
<line x1="344.60" y1="529.20" x2="344.60" y2="531.90" stroke="#5b6aa3" stroke-width="0.8"/>
<line x1="350.80" y1="529.20" x2="350.80" y2="531.90" stroke="#5b6aa3" stroke-width="0.8"/>
<line x1="335.40" y1="521.50" x2="335.40" y2="524.20" stroke="#5b6aa3" stroke-width="0.8"/>
<line x1="359.20" y1="536.45" x2="359.20" y2="539.15" stroke="#62233f" stroke-width="0.8"/>
<line x1="385.40" y1="540.80" x2="385.40" y2="543.50" stroke="#62233f" stroke-width="0.8"/>
</svg></body></html>
